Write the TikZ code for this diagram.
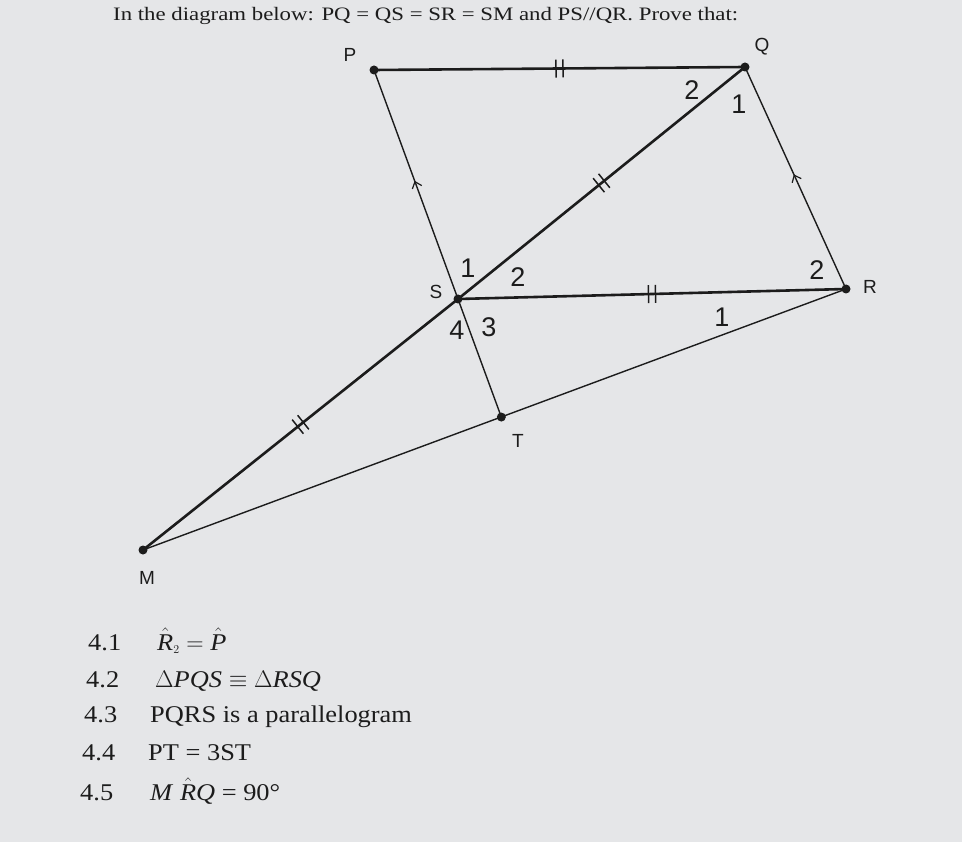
\RequirePackage{fix-cm}
\documentclass[tikz,border=0pt]{standalone}
\usepackage{fontspec}
\setmainfont{Liberation Serif}
\newfontfamily\lblfont{Liberation Sans}
\newfontfamily\titlefont[FakeStretch=1.2]{Liberation Serif}
\newfontfamily\itemfont[FakeStretch=1.1,ItalicFont={Liberation Serif Italic}]{Liberation Serif}
\usetikzlibrary{decorations.markings}
\definecolor{bg}{RGB}{229,230,232}
\definecolor{ink}{RGB}{28,28,28}
\tikzset{
  thickline/.style={ink, line width=2.6pt},
  thinline/.style={ink, line width=1.4pt},
  dtick/.style={postaction={decorate,decoration={markings,mark=at position 0.5 with {\draw[ink,line width=1.5pt] (-3.5pt,-9pt)--(-3.5pt,9pt) (3.5pt,-9pt)--(3.5pt,9pt);}}}},
  parmark/.style={postaction={decorate,decoration={markings,mark=at position 0.5 with {\draw[ink,line width=1.2pt] (3pt,-5pt)--(-3pt,0pt)--(3pt,5pt);}}}},
  lbl/.style={font=\lblfont\fontsize{19}{19}\selectfont, text=ink, inner sep=0pt},
  num/.style={font=\lblfont\fontsize{27}{27}\selectfont, text=ink, inner sep=0pt},
  title/.style={font=\titlefont\fontsize{19}{19}\selectfont, text=ink, inner sep=0pt, anchor=base west},
  item/.style={font=\itemfont\fontsize{24}{24}\selectfont, text=ink, inner sep=0pt, anchor=base west},
  dot/.style={ink}
}
\begin{document}
\begin{tikzpicture}[x=1pt,y=-1pt]
\useasboundingbox (0,0) rectangle (962,842);
\fill[bg] (0,0) rectangle (962,842);
% points
\coordinate (P) at (374,70);
\coordinate (Q) at (745,67);
\coordinate (S) at (458,299);
\coordinate (R) at (846,289);
\coordinate (M) at (143,550);
\coordinate (T) at (intersection of P--S and M--R);
% lines
\draw[thinline,parmark] (P) -- (S);
\draw[thinline] (S) -- (T);
\draw[thinline,parmark] (Q) -- (R);
\draw[thinline] (M) -- (R);
\draw[thickline,dtick] (P) -- (Q);
\draw[thickline,dtick] (Q) -- (S);
\draw[thickline,dtick] (S) -- (M);
\draw[thickline,dtick] (S) -- (R);
% dots
\foreach \p in {P,Q,S,R,T,M} \fill[dot] (\p) circle (4.5);
% point labels
\node[lbl] (lP) at (350,55) {P};
\node[lbl] (lQ) at (762,47) {Q};
\node[lbl] (lS) at (436,292) {S};
\node[lbl] (lR) at (870,287) {R};
\node[lbl] (lT) at (518,441) {T};
\node[lbl] (lM) at (147,578) {M};
% angle numbers
\node[num] (q2) at (692,90) {2};
\node[num] (q1) at (739,104) {1};
\node[num] (s1) at (468,268) {1};
\node[num] (s2) at (518,277) {2};
\node[num] (s4) at (457,330) {4};
\node[num] (s3) at (489,327) {3};
\node[num] (r2) at (817,270) {2};
\node[num] (r1) at (722,317) {1};
% title
\node[title] (ttl) at (113,21) {In the diagram below: PQ = QS = SR = SM and PS//QR. Prove that:};
% list
\node[item] (n1) at (88,650) {4.1};
\node[item] (i1) at (157,650) {$\hat{\textit{R}}_{\scriptscriptstyle 2}=\hat{\textit{P}}$};
\node[item] (n2) at (86,687) {4.2};
\node[item] (i2) at (155,687) {$\Delta\textit{PQS}\equiv\Delta\textit{RSQ}$};
\node[item] (n3) at (84,722) {4.3};
\node[item] (i3) at (150,722) {PQRS is a parallelogram};
\node[item] (n4) at (82,760) {4.4};
\node[item] (i4) at (148,760) {PT = 3ST};
\node[item] (n5) at (80,800) {4.5};
\node[item] (i5) at (150,800) {\textit{M} $\hat{\textit{R}}$\textit{Q} = 90°};
\end{tikzpicture}
\end{document}
